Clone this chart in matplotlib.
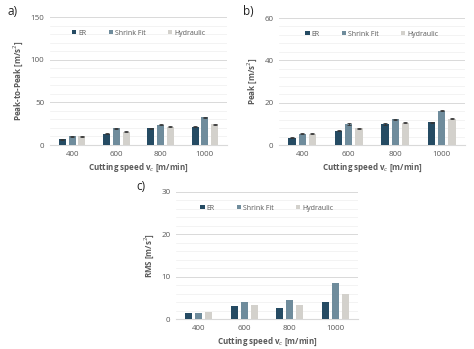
import matplotlib.pyplot as plt
import numpy as np
from matplotlib.ticker import MultipleLocator

speeds = ["400", "600", "800", "1000"]
holders = ["ER", "Shrink Fit", "Hydraulic"]
colors = ["#254b63", "#6f8c9c", "#d3d1cc"]

p2p = {
    "ER": [6.5, 13.0, 19.8, 21.6],
    "Shrink Fit": [10.3, 19.6, 24.0, 32.6],
    "Hydraulic": [10.0, 15.5, 21.2, 24.4],
}
p2p_err = {
    "ER": [0.4, 0.5, 0.6, 0.5],
    "Shrink Fit": [0.5, 0.5, 0.6, 0.6],
    "Hydraulic": [0.4, 0.5, 0.5, 0.6],
}
peak = {
    "ER": [3.5, 6.7, 9.9, 10.8],
    "Shrink Fit": [5.3, 9.9, 12.2, 16.2],
    "Hydraulic": [5.3, 7.8, 10.6, 12.5],
}
peak_err = {
    "ER": [0.2, 0.3, 0.4, 0.3],
    "Shrink Fit": [0.2, 0.3, 0.3, 0.3],
    "Hydraulic": [0.2, 0.3, 0.3, 0.3],
}
rms = {
    "ER": [1.3, 3.1, 2.6, 4.0],
    "Shrink Fit": [1.3, 3.9, 4.4, 8.4],
    "Hydraulic": [1.6, 3.2, 3.3, 5.9],
}

plt.rcParams["font.family"] = ["Open Sans", "DejaVu Sans"]
text_col = "#595959"


def bar_panel(ax, data, errs, ymax, major, minor, ylabel):
    x = np.arange(len(speeds))
    w = 0.16
    step = 0.22
    for i, h in enumerate(holders):
        kw = {}
        if errs is not None:
            kw = dict(yerr=errs[h], capsize=1.5,
                      error_kw=dict(elinewidth=0.6, capthick=0.6, ecolor="#333333"))
        ax.bar(x + (i - 1) * step, data[h], width=w, color=colors[i],
               label=h, zorder=3, **kw)
    ax.set_xlim(-0.5, len(speeds) - 0.5)
    ax.set_ylim(0, ymax)
    ax.yaxis.set_major_locator(MultipleLocator(major))
    ax.yaxis.set_minor_locator(MultipleLocator(minor))
    ax.grid(axis="y", which="major", color="#d9d9d9", linewidth=0.7, zorder=0)
    ax.grid(axis="y", which="minor", color="#efefef", linewidth=0.5, zorder=0)
    ax.set_xticks(x)
    ax.set_xticklabels(speeds)
    ax.tick_params(axis="both", length=0, labelsize=5.8, colors=text_col, pad=4)
    ax.tick_params(axis="y", which="minor", length=0)
    for s in ["top", "right", "left"]:
        ax.spines[s].set_visible(False)
    ax.spines["bottom"].set_color("#d9d9d9")
    ax.set_xlabel("Cutting speed v$_c$ [m/min]", fontsize=5.8, fontweight="bold",
                  color=text_col, labelpad=3)
    ax.set_ylabel(ylabel, fontsize=5.8, fontweight="bold", color=text_col, labelpad=4)
    leg = ax.legend(loc="upper center", bbox_to_anchor=(0.5, 0.95), ncol=3,
                    frameon=False, fontsize=5, handlelength=0.6, handleheight=0.6,
                    handletextpad=0.3, columnspacing=3.2)
    for t in leg.get_texts():
        t.set_color(text_col)


fig = plt.figure(figsize=(4.74, 3.49), dpi=100)

ax_a = fig.add_axes([50 / 474, 1 - 145 / 349, 177 / 474, 128 / 349])
bar_panel(ax_a, p2p, p2p_err, 150, 50, 10, "Peak-to-Peak [m/s$^2$]")

ax_b = fig.add_axes([279 / 474, 1 - 145 / 349, 186 / 474, 127 / 349])
bar_panel(ax_b, peak, peak_err, 60, 20, 4, "Peak [m/s$^2$]")

ax_c = fig.add_axes([176 / 474, 1 - 319 / 349, 182 / 474, 127 / 349])
bar_panel(ax_c, rms, None, 30, 10, 2, "RMS [m/s$^2$]")

fig.text(7 / 474, 1 - 15 / 349, "a)", fontsize=8.5, color="#222222")
fig.text(243 / 474, 1 - 15 / 349, "b)", fontsize=8.5, color="#222222")
fig.text(136 / 474, 1 - 190 / 349, "c)", fontsize=8.5, color="#222222")

fig.savefig("out.png", dpi=100)
